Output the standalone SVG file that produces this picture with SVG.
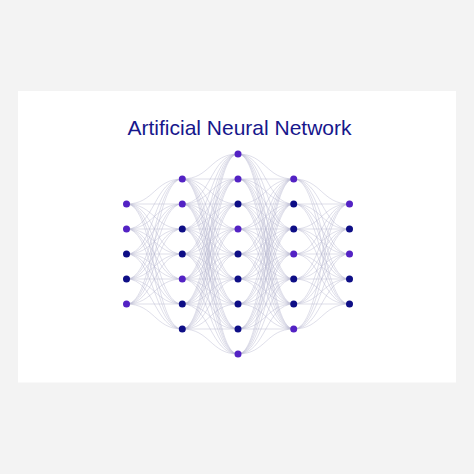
<svg xmlns="http://www.w3.org/2000/svg" width="474" height="474" viewBox="0 0 474 474">
<style>
.bg{fill:#f3f3f3}
.panel{fill:#ffffff}
.title{font-family:"Liberation Sans","Open Sans",sans-serif;font-size:21px;fill:#17178c}
.e{fill:none;stroke:#b8b8cf;stroke-width:0.6;stroke-opacity:0.75}
.p{fill:#5322c4}
.n{fill:#0e0e86}
circle{r:3.5px}
</style>
<rect class="bg" x="0" y="0" width="474" height="474"/>
<rect class="panel" x="18" y="91" width="438" height="291.5"/>
<text class="title" x="239.5" y="135" text-anchor="middle">Artificial Neural Network</text>
<g id="connectors">
<path class="e" d="M126.5 204c27.9 0 27.9 -25 55.8 -25M126.5 204c27.9 0 27.9 0 55.8 0M126.5 204c27.9 0 27.9 25 55.8 25M126.5 204c27.9 0 27.9 50 55.8 50M126.5 204c27.9 0 27.9 75 55.8 75M126.5 204c27.9 0 27.9 100 55.8 100M126.5 204c27.9 0 27.9 125 55.8 125"/>
<path class="e" d="M126.5 229c27.9 0 27.9 -50 55.8 -50M126.5 229c27.9 0 27.9 -25 55.8 -25M126.5 229c27.9 0 27.9 0 55.8 0M126.5 229c27.9 0 27.9 25 55.8 25M126.5 229c27.9 0 27.9 50 55.8 50M126.5 229c27.9 0 27.9 75 55.8 75M126.5 229c27.9 0 27.9 100 55.8 100"/>
<path class="e" d="M126.5 254c27.9 0 27.9 -75 55.8 -75M126.5 254c27.9 0 27.9 -50 55.8 -50M126.5 254c27.9 0 27.9 -25 55.8 -25M126.5 254c27.9 0 27.9 0 55.8 0M126.5 254c27.9 0 27.9 25 55.8 25M126.5 254c27.9 0 27.9 50 55.8 50M126.5 254c27.9 0 27.9 75 55.8 75"/>
<path class="e" d="M126.5 279c27.9 0 27.9 -100 55.8 -100M126.5 279c27.9 0 27.9 -75 55.8 -75M126.5 279c27.9 0 27.9 -50 55.8 -50M126.5 279c27.9 0 27.9 -25 55.8 -25M126.5 279c27.9 0 27.9 0 55.8 0M126.5 279c27.9 0 27.9 25 55.8 25M126.5 279c27.9 0 27.9 50 55.8 50"/>
<path class="e" d="M126.5 304c27.9 0 27.9 -125 55.8 -125M126.5 304c27.9 0 27.9 -100 55.8 -100M126.5 304c27.9 0 27.9 -75 55.8 -75M126.5 304c27.9 0 27.9 -50 55.8 -50M126.5 304c27.9 0 27.9 -25 55.8 -25M126.5 304c27.9 0 27.9 0 55.8 0M126.5 304c27.9 0 27.9 25 55.8 25"/>
<path class="e" d="M182.3 179c27.9 0 27.9 -25 55.7 -25M182.3 179c27.9 0 27.9 0 55.7 0M182.3 179c27.9 0 27.9 25 55.7 25M182.3 179c27.9 0 27.9 50 55.7 50M182.3 179c27.9 0 27.9 75 55.7 75M182.3 179c27.9 0 27.9 100 55.7 100M182.3 179c27.9 0 27.9 125 55.7 125M182.3 179c27.9 0 27.9 150 55.7 150M182.3 179c27.9 0 27.9 175 55.7 175"/>
<path class="e" d="M182.3 204c27.9 0 27.9 -50 55.7 -50M182.3 204c27.9 0 27.9 -25 55.7 -25M182.3 204c27.9 0 27.9 0 55.7 0M182.3 204c27.9 0 27.9 25 55.7 25M182.3 204c27.9 0 27.9 50 55.7 50M182.3 204c27.9 0 27.9 75 55.7 75M182.3 204c27.9 0 27.9 100 55.7 100M182.3 204c27.9 0 27.9 125 55.7 125M182.3 204c27.9 0 27.9 150 55.7 150"/>
<path class="e" d="M182.3 229c27.9 0 27.9 -75 55.7 -75M182.3 229c27.9 0 27.9 -50 55.7 -50M182.3 229c27.9 0 27.9 -25 55.7 -25M182.3 229c27.9 0 27.9 0 55.7 0M182.3 229c27.9 0 27.9 25 55.7 25M182.3 229c27.9 0 27.9 50 55.7 50M182.3 229c27.9 0 27.9 75 55.7 75M182.3 229c27.9 0 27.9 100 55.7 100M182.3 229c27.9 0 27.9 125 55.7 125"/>
<path class="e" d="M182.3 254c27.9 0 27.9 -100 55.7 -100M182.3 254c27.9 0 27.9 -75 55.7 -75M182.3 254c27.9 0 27.9 -50 55.7 -50M182.3 254c27.9 0 27.9 -25 55.7 -25M182.3 254c27.9 0 27.9 0 55.7 0M182.3 254c27.9 0 27.9 25 55.7 25M182.3 254c27.9 0 27.9 50 55.7 50M182.3 254c27.9 0 27.9 75 55.7 75M182.3 254c27.9 0 27.9 100 55.7 100"/>
<path class="e" d="M182.3 279c27.9 0 27.9 -125 55.7 -125M182.3 279c27.9 0 27.9 -100 55.7 -100M182.3 279c27.9 0 27.9 -75 55.7 -75M182.3 279c27.9 0 27.9 -50 55.7 -50M182.3 279c27.9 0 27.9 -25 55.7 -25M182.3 279c27.9 0 27.9 0 55.7 0M182.3 279c27.9 0 27.9 25 55.7 25M182.3 279c27.9 0 27.9 50 55.7 50M182.3 279c27.9 0 27.9 75 55.7 75"/>
<path class="e" d="M182.3 304c27.9 0 27.9 -150 55.7 -150M182.3 304c27.9 0 27.9 -125 55.7 -125M182.3 304c27.9 0 27.9 -100 55.7 -100M182.3 304c27.9 0 27.9 -75 55.7 -75M182.3 304c27.9 0 27.9 -50 55.7 -50M182.3 304c27.9 0 27.9 -25 55.7 -25M182.3 304c27.9 0 27.9 0 55.7 0M182.3 304c27.9 0 27.9 25 55.7 25M182.3 304c27.9 0 27.9 50 55.7 50"/>
<path class="e" d="M182.3 329c27.9 0 27.9 -175 55.7 -175M182.3 329c27.9 0 27.9 -150 55.7 -150M182.3 329c27.9 0 27.9 -125 55.7 -125M182.3 329c27.9 0 27.9 -100 55.7 -100M182.3 329c27.9 0 27.9 -75 55.7 -75M182.3 329c27.9 0 27.9 -50 55.7 -50M182.3 329c27.9 0 27.9 -25 55.7 -25M182.3 329c27.9 0 27.9 0 55.7 0M182.3 329c27.9 0 27.9 25 55.7 25"/>
<path class="e" d="M238 154c27.9 0 27.9 25 55.7 25M238 154c27.9 0 27.9 50 55.7 50M238 154c27.9 0 27.9 75 55.7 75M238 154c27.9 0 27.9 100 55.7 100M238 154c27.9 0 27.9 125 55.7 125M238 154c27.9 0 27.9 150 55.7 150M238 154c27.9 0 27.9 175 55.7 175"/>
<path class="e" d="M238 179c27.9 0 27.9 0 55.7 0M238 179c27.9 0 27.9 25 55.7 25M238 179c27.9 0 27.9 50 55.7 50M238 179c27.9 0 27.9 75 55.7 75M238 179c27.9 0 27.9 100 55.7 100M238 179c27.9 0 27.9 125 55.7 125M238 179c27.9 0 27.9 150 55.7 150"/>
<path class="e" d="M238 204c27.9 0 27.9 -25 55.7 -25M238 204c27.9 0 27.9 0 55.7 0M238 204c27.9 0 27.9 25 55.7 25M238 204c27.9 0 27.9 50 55.7 50M238 204c27.9 0 27.9 75 55.7 75M238 204c27.9 0 27.9 100 55.7 100M238 204c27.9 0 27.9 125 55.7 125"/>
<path class="e" d="M238 229c27.9 0 27.9 -50 55.7 -50M238 229c27.9 0 27.9 -25 55.7 -25M238 229c27.9 0 27.9 0 55.7 0M238 229c27.9 0 27.9 25 55.7 25M238 229c27.9 0 27.9 50 55.7 50M238 229c27.9 0 27.9 75 55.7 75M238 229c27.9 0 27.9 100 55.7 100"/>
<path class="e" d="M238 254c27.9 0 27.9 -75 55.7 -75M238 254c27.9 0 27.9 -50 55.7 -50M238 254c27.9 0 27.9 -25 55.7 -25M238 254c27.9 0 27.9 0 55.7 0M238 254c27.9 0 27.9 25 55.7 25M238 254c27.9 0 27.9 50 55.7 50M238 254c27.9 0 27.9 75 55.7 75"/>
<path class="e" d="M238 279c27.9 0 27.9 -100 55.7 -100M238 279c27.9 0 27.9 -75 55.7 -75M238 279c27.9 0 27.9 -50 55.7 -50M238 279c27.9 0 27.9 -25 55.7 -25M238 279c27.9 0 27.9 0 55.7 0M238 279c27.9 0 27.9 25 55.7 25M238 279c27.9 0 27.9 50 55.7 50"/>
<path class="e" d="M238 304c27.9 0 27.9 -125 55.7 -125M238 304c27.9 0 27.9 -100 55.7 -100M238 304c27.9 0 27.9 -75 55.7 -75M238 304c27.9 0 27.9 -50 55.7 -50M238 304c27.9 0 27.9 -25 55.7 -25M238 304c27.9 0 27.9 0 55.7 0M238 304c27.9 0 27.9 25 55.7 25"/>
<path class="e" d="M238 329c27.9 0 27.9 -150 55.7 -150M238 329c27.9 0 27.9 -125 55.7 -125M238 329c27.9 0 27.9 -100 55.7 -100M238 329c27.9 0 27.9 -75 55.7 -75M238 329c27.9 0 27.9 -50 55.7 -50M238 329c27.9 0 27.9 -25 55.7 -25M238 329c27.9 0 27.9 0 55.7 0"/>
<path class="e" d="M238 354c27.9 0 27.9 -175 55.7 -175M238 354c27.9 0 27.9 -150 55.7 -150M238 354c27.9 0 27.9 -125 55.7 -125M238 354c27.9 0 27.9 -100 55.7 -100M238 354c27.9 0 27.9 -75 55.7 -75M238 354c27.9 0 27.9 -50 55.7 -50M238 354c27.9 0 27.9 -25 55.7 -25"/>
<path class="e" d="M293.7 179c27.9 0 27.9 25 55.8 25M293.7 179c27.9 0 27.9 50 55.8 50M293.7 179c27.9 0 27.9 75 55.8 75M293.7 179c27.9 0 27.9 100 55.8 100M293.7 179c27.9 0 27.9 125 55.8 125"/>
<path class="e" d="M293.7 204c27.9 0 27.9 0 55.8 0M293.7 204c27.9 0 27.9 25 55.8 25M293.7 204c27.9 0 27.9 50 55.8 50M293.7 204c27.9 0 27.9 75 55.8 75M293.7 204c27.9 0 27.9 100 55.8 100"/>
<path class="e" d="M293.7 229c27.9 0 27.9 -25 55.8 -25M293.7 229c27.9 0 27.9 0 55.8 0M293.7 229c27.9 0 27.9 25 55.8 25M293.7 229c27.9 0 27.9 50 55.8 50M293.7 229c27.9 0 27.9 75 55.8 75"/>
<path class="e" d="M293.7 254c27.9 0 27.9 -50 55.8 -50M293.7 254c27.9 0 27.9 -25 55.8 -25M293.7 254c27.9 0 27.9 0 55.8 0M293.7 254c27.9 0 27.9 25 55.8 25M293.7 254c27.9 0 27.9 50 55.8 50"/>
<path class="e" d="M293.7 279c27.9 0 27.9 -75 55.8 -75M293.7 279c27.9 0 27.9 -50 55.8 -50M293.7 279c27.9 0 27.9 -25 55.8 -25M293.7 279c27.9 0 27.9 0 55.8 0M293.7 279c27.9 0 27.9 25 55.8 25"/>
<path class="e" d="M293.7 304c27.9 0 27.9 -100 55.8 -100M293.7 304c27.9 0 27.9 -75 55.8 -75M293.7 304c27.9 0 27.9 -50 55.8 -50M293.7 304c27.9 0 27.9 -25 55.8 -25M293.7 304c27.9 0 27.9 0 55.8 0"/>
<path class="e" d="M293.7 329c27.9 0 27.9 -125 55.8 -125M293.7 329c27.9 0 27.9 -100 55.8 -100M293.7 329c27.9 0 27.9 -75 55.8 -75M293.7 329c27.9 0 27.9 -50 55.8 -50M293.7 329c27.9 0 27.9 -25 55.8 -25"/>
</g>
<g id="layer1">
<circle id="n1_1" class="p" cx="126.5" cy="204" r="3.5"/>
<circle id="n1_2" class="p" cx="126.5" cy="229" r="3.5"/>
<circle id="n1_3" class="n" cx="126.5" cy="254" r="3.5"/>
<circle id="n1_4" class="n" cx="126.5" cy="279" r="3.5"/>
<circle id="n1_5" class="p" cx="126.5" cy="304" r="3.5"/>
</g>
<g id="layer2">
<circle id="n2_1" class="p" cx="182.3" cy="179" r="3.5"/>
<circle id="n2_2" class="p" cx="182.3" cy="204" r="3.5"/>
<circle id="n2_3" class="n" cx="182.3" cy="229" r="3.5"/>
<circle id="n2_4" class="n" cx="182.3" cy="254" r="3.5"/>
<circle id="n2_5" class="p" cx="182.3" cy="279" r="3.5"/>
<circle id="n2_6" class="n" cx="182.3" cy="304" r="3.5"/>
<circle id="n2_7" class="n" cx="182.3" cy="329" r="3.5"/>
</g>
<g id="layer3">
<circle id="n3_1" class="p" cx="238" cy="154" r="3.5"/>
<circle id="n3_2" class="p" cx="238" cy="179" r="3.5"/>
<circle id="n3_3" class="n" cx="238" cy="204" r="3.5"/>
<circle id="n3_4" class="p" cx="238" cy="229" r="3.5"/>
<circle id="n3_5" class="n" cx="238" cy="254" r="3.5"/>
<circle id="n3_6" class="n" cx="238" cy="279" r="3.5"/>
<circle id="n3_7" class="n" cx="238" cy="304" r="3.5"/>
<circle id="n3_8" class="n" cx="238" cy="329" r="3.5"/>
<circle id="n3_9" class="p" cx="238" cy="354" r="3.5"/>
</g>
<g id="layer4">
<circle id="n4_1" class="p" cx="293.7" cy="179" r="3.5"/>
<circle id="n4_2" class="n" cx="293.7" cy="204" r="3.5"/>
<circle id="n4_3" class="n" cx="293.7" cy="229" r="3.5"/>
<circle id="n4_4" class="p" cx="293.7" cy="254" r="3.5"/>
<circle id="n4_5" class="n" cx="293.7" cy="279" r="3.5"/>
<circle id="n4_6" class="n" cx="293.7" cy="304" r="3.5"/>
<circle id="n4_7" class="p" cx="293.7" cy="329" r="3.5"/>
</g>
<g id="layer5">
<circle id="n5_1" class="p" cx="349.5" cy="204" r="3.5"/>
<circle id="n5_2" class="n" cx="349.5" cy="229" r="3.5"/>
<circle id="n5_3" class="p" cx="349.5" cy="254" r="3.5"/>
<circle id="n5_4" class="n" cx="349.5" cy="279" r="3.5"/>
<circle id="n5_5" class="n" cx="349.5" cy="304" r="3.5"/>
</g>
</svg>
